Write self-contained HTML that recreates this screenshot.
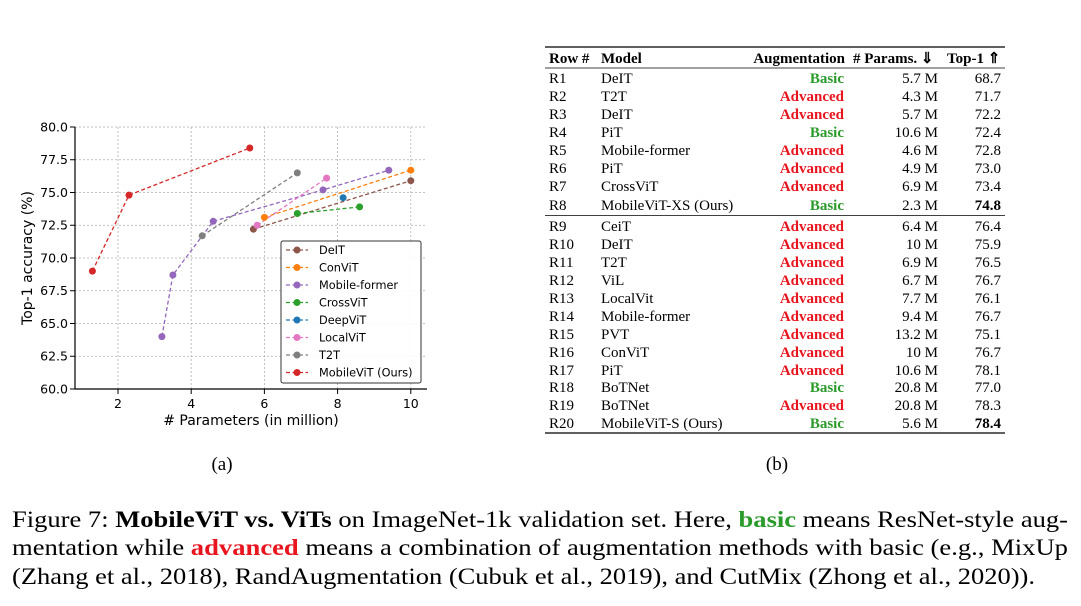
<!DOCTYPE html>
<html><head><meta charset="utf-8"><style>html,body{margin:0;padding:0;background:#fff}svg{display:block}</style></head><body>
<svg width="1081" height="606" xmlns="http://www.w3.org/2000/svg">
<g stroke="#b0b0b0" stroke-width="0.8" stroke-dasharray="2,2">
<line x1="118" y1="127" x2="118" y2="389"/><line x1="191.2" y1="127" x2="191.2" y2="389"/><line x1="264.4" y1="127" x2="264.4" y2="389"/><line x1="337.6" y1="127" x2="337.6" y2="389"/><line x1="410.8" y1="127" x2="410.8" y2="389"/>
<line x1="75" y1="356.25" x2="427" y2="356.25"/><line x1="75" y1="323.5" x2="427" y2="323.5"/><line x1="75" y1="290.75" x2="427" y2="290.75"/><line x1="75" y1="258" x2="427" y2="258"/><line x1="75" y1="225.25" x2="427" y2="225.25"/><line x1="75" y1="192.5" x2="427" y2="192.5"/><line x1="75" y1="159.75" x2="427" y2="159.75"/><line x1="75" y1="127" x2="427" y2="127"/>
</g>
<g stroke="#000" stroke-width="1.2"><line x1="75" y1="127" x2="75" y2="389"/><line x1="75" y1="389" x2="427" y2="389"/>
<g stroke-width="1"><line x1="70" y1="127" x2="75" y2="127"/><line x1="70" y1="159.75" x2="75" y2="159.75"/><line x1="70" y1="192.5" x2="75" y2="192.5"/><line x1="70" y1="225.25" x2="75" y2="225.25"/><line x1="70" y1="258" x2="75" y2="258"/><line x1="70" y1="290.75" x2="75" y2="290.75"/><line x1="70" y1="323.5" x2="75" y2="323.5"/><line x1="70" y1="356.25" x2="75" y2="356.25"/><line x1="70" y1="389" x2="75" y2="389"/>
<line x1="118" y1="389" x2="118" y2="394"/><line x1="191.2" y1="389" x2="191.2" y2="394"/><line x1="264.4" y1="389" x2="264.4" y2="394"/><line x1="337.6" y1="389" x2="337.6" y2="394"/><line x1="410.8" y1="389" x2="410.8" y2="394"/></g></g>
<g font-family="DejaVu Sans, sans-serif" font-size="12.5" fill="#000" text-anchor="end">
<text x="68" y="131.5">80.0</text><text x="68" y="164">77.5</text><text x="68" y="197">75.0</text><text x="68" y="229.5">72.5</text><text x="68" y="262.5">70.0</text><text x="68" y="295">67.5</text><text x="68" y="328">65.0</text><text x="68" y="360.5">62.5</text><text x="68" y="393.5">60.0</text>
</g>
<g font-family="DejaVu Sans, sans-serif" font-size="12.5" text-anchor="middle">
<text x="118" y="408">2</text><text x="191.2" y="408">4</text><text x="264.4" y="408">6</text><text x="337.6" y="408">8</text><text x="410.8" y="408">10</text>
<text x="251" y="425" font-size="14">  # Parameters (in million)</text>
<text transform="translate(32,258) rotate(-90)" font-size="14">Top-1 accuracy (%)</text>
</g>
<g stroke-width="1.3" stroke-dasharray="4,2.5" fill="none">
<polyline stroke="#8c564b" points="253.4,229.2 410.8,180.7"/>
<polyline stroke="#ff7f0e" points="264.4,217.4 410.8,170.2"/>
<polyline stroke="#9467bd" points="161.9,336.6 172.9,275 213.2,221.3 323,189.9 388.8,170.2"/>
<polyline stroke="#2ca02c" points="297.3,213.5 359.6,206.9"/>
<polyline stroke="#e377c2" points="257.1,225.3 326.6,178.1"/>
<polyline stroke="#7f7f7f" points="202.2,235.8 297.3,172.9"/>
<polyline stroke="#d62728" points="92.4,271.1 129,195.1 249.8,148"/>
</g>
<g>
<circle cx="253.4" cy="229.2" r="3.5" fill="#8c564b"/><circle cx="410.8" cy="180.7" r="3.5" fill="#8c564b"/>
<circle cx="264.4" cy="217.4" r="3.5" fill="#ff7f0e"/><circle cx="410.8" cy="170.2" r="3.5" fill="#ff7f0e"/>
<circle cx="161.9" cy="336.6" r="3.5" fill="#9467bd"/><circle cx="172.9" cy="275" r="3.5" fill="#9467bd"/><circle cx="213.2" cy="221.3" r="3.5" fill="#9467bd"/><circle cx="323" cy="189.9" r="3.5" fill="#9467bd"/><circle cx="388.8" cy="170.2" r="3.5" fill="#9467bd"/>
<circle cx="297.3" cy="213.5" r="3.5" fill="#2ca02c"/><circle cx="359.6" cy="206.9" r="3.5" fill="#2ca02c"/>
<circle cx="343.1" cy="197.7" r="3.5" fill="#1f77b4"/>
<circle cx="257.1" cy="225.3" r="3.5" fill="#e377c2"/><circle cx="326.6" cy="178.1" r="3.5" fill="#e377c2"/>
<circle cx="202.2" cy="235.8" r="3.5" fill="#7f7f7f"/><circle cx="297.3" cy="172.9" r="3.5" fill="#7f7f7f"/>
<circle cx="92.4" cy="271.1" r="3.5" fill="#d62728"/><circle cx="129" cy="195.1" r="3.5" fill="#d62728"/><circle cx="249.8" cy="148" r="3.5" fill="#d62728"/>
</g>
<rect x="281" y="241" width="140" height="142" rx="2" fill="#fff" fill-opacity="0.9" stroke="#333" stroke-width="1"/>
<g font-family="DejaVu Sans, sans-serif" font-size="11.3" stroke-width="1.3">
<g transform="translate(0,250)"><line x1="286" x2="308" stroke="#8c564b" stroke-dasharray="4,2.5"/><circle cx="297" r="3.5" fill="#8c564b"/><text x="319" y="4">DeIT</text></g>
<g transform="translate(0,267.5)"><line x1="286" x2="308" stroke="#ff7f0e" stroke-dasharray="4,2.5"/><circle cx="297" r="3.5" fill="#ff7f0e"/><text x="319" y="4">ConViT</text></g>
<g transform="translate(0,285)"><line x1="286" x2="308" stroke="#9467bd" stroke-dasharray="4,2.5"/><circle cx="297" r="3.5" fill="#9467bd"/><text x="319" y="4">Mobile-former</text></g>
<g transform="translate(0,302.5)"><line x1="286" x2="308" stroke="#2ca02c" stroke-dasharray="4,2.5"/><circle cx="297" r="3.5" fill="#2ca02c"/><text x="319" y="4">CrossViT</text></g>
<g transform="translate(0,320)"><line x1="286" x2="308" stroke="#1f77b4" stroke-dasharray="4,2.5"/><circle cx="297" r="3.5" fill="#1f77b4"/><text x="319" y="4">DeepViT</text></g>
<g transform="translate(0,337.5)"><line x1="286" x2="308" stroke="#e377c2" stroke-dasharray="4,2.5"/><circle cx="297" r="3.5" fill="#e377c2"/><text x="319" y="4">LocalViT</text></g>
<g transform="translate(0,355)"><line x1="286" x2="308" stroke="#7f7f7f" stroke-dasharray="4,2.5"/><circle cx="297" r="3.5" fill="#7f7f7f"/><text x="319" y="4">T2T</text></g>
<g transform="translate(0,372.5)"><line x1="286" x2="308" stroke="#d62728" stroke-dasharray="4,2.5"/><circle cx="297" r="3.5" fill="#d62728"/><text x="319" y="4">MobileViT (Ours)</text></g>
</g>

<!-- table -->
<g stroke="#000"><line x1="545" y1="47" x2="1005" y2="47" stroke-width="1.3"/><line x1="545" y1="68" x2="1005" y2="68" stroke-width="0.8"/><line x1="545" y1="215.5" x2="1005" y2="215.5" stroke-width="0.8"/><line x1="545" y1="433" x2="1005" y2="433" stroke-width="1.3"/></g>
<g font-family="Liberation Serif, serif" font-size="15">
<g font-weight="bold"><text x="549" y="63">Row #</text><text x="601" y="63">Model</text><text x="845" y="63" text-anchor="end">Augmentation</text><text x="853" y="63"># Params. ⇓</text><text x="947" y="63">Top-1 ⇑</text></g>
<g id="rows">
<text x="549" y="83">R1</text><text x="601" y="83">DeIT</text><text x="844" y="83" text-anchor="end" fill="#2a9a2a" font-weight="bold">Basic</text><text x="938" y="83" text-anchor="end">5.7 M</text><text x="1001" y="83" text-anchor="end">68.7</text>
<text x="549" y="101">R2</text><text x="601" y="101">T2T</text><text x="844" y="101" text-anchor="end" fill="#e8141e" font-weight="bold">Advanced</text><text x="938" y="101" text-anchor="end">4.3 M</text><text x="1001" y="101" text-anchor="end">71.7</text>
<text x="549" y="119">R3</text><text x="601" y="119">DeIT</text><text x="844" y="119" text-anchor="end" fill="#e8141e" font-weight="bold">Advanced</text><text x="938" y="119" text-anchor="end">5.7 M</text><text x="1001" y="119" text-anchor="end">72.2</text>
<text x="549" y="137">R4</text><text x="601" y="137">PiT</text><text x="844" y="137" text-anchor="end" fill="#2a9a2a" font-weight="bold">Basic</text><text x="938" y="137" text-anchor="end">10.6 M</text><text x="1001" y="137" text-anchor="end">72.4</text>
<text x="549" y="155">R5</text><text x="601" y="155">Mobile-former</text><text x="844" y="155" text-anchor="end" fill="#e8141e" font-weight="bold">Advanced</text><text x="938" y="155" text-anchor="end">4.6 M</text><text x="1001" y="155" text-anchor="end">72.8</text>
<text x="549" y="173">R6</text><text x="601" y="173">PiT</text><text x="844" y="173" text-anchor="end" fill="#e8141e" font-weight="bold">Advanced</text><text x="938" y="173" text-anchor="end">4.9 M</text><text x="1001" y="173" text-anchor="end">73.0</text>
<text x="549" y="191">R7</text><text x="601" y="191">CrossViT</text><text x="844" y="191" text-anchor="end" fill="#e8141e" font-weight="bold">Advanced</text><text x="938" y="191" text-anchor="end">6.9 M</text><text x="1001" y="191" text-anchor="end">73.4</text>
<text x="549" y="210">R8</text><text x="601" y="210">MobileViT-XS (Ours)</text><text x="844" y="210" text-anchor="end" fill="#2a9a2a" font-weight="bold">Basic</text><text x="938" y="210" text-anchor="end">2.3 M</text><text x="1001" y="210" text-anchor="end" font-weight="bold">74.8</text>
<text x="549" y="231">R9</text><text x="601" y="231">CeiT</text><text x="844" y="231" text-anchor="end" fill="#e8141e" font-weight="bold">Advanced</text><text x="938" y="231" text-anchor="end">6.4 M</text><text x="1001" y="231" text-anchor="end">76.4</text>
<text x="549" y="249">R10</text><text x="601" y="249">DeIT</text><text x="844" y="249" text-anchor="end" fill="#e8141e" font-weight="bold">Advanced</text><text x="938" y="249" text-anchor="end">10 M</text><text x="1001" y="249" text-anchor="end">75.9</text>
<text x="549" y="267">R11</text><text x="601" y="267">T2T</text><text x="844" y="267" text-anchor="end" fill="#e8141e" font-weight="bold">Advanced</text><text x="938" y="267" text-anchor="end">6.9 M</text><text x="1001" y="267" text-anchor="end">76.5</text>
<text x="549" y="285">R12</text><text x="601" y="285">ViL</text><text x="844" y="285" text-anchor="end" fill="#e8141e" font-weight="bold">Advanced</text><text x="938" y="285" text-anchor="end">6.7 M</text><text x="1001" y="285" text-anchor="end">76.7</text>
<text x="549" y="303">R13</text><text x="601" y="303">LocalVit</text><text x="844" y="303" text-anchor="end" fill="#e8141e" font-weight="bold">Advanced</text><text x="938" y="303" text-anchor="end">7.7 M</text><text x="1001" y="303" text-anchor="end">76.1</text>
<text x="549" y="321">R14</text><text x="601" y="321">Mobile-former</text><text x="844" y="321" text-anchor="end" fill="#e8141e" font-weight="bold">Advanced</text><text x="938" y="321" text-anchor="end">9.4 M</text><text x="1001" y="321" text-anchor="end">76.7</text>
<text x="549" y="339">R15</text><text x="601" y="339">PVT</text><text x="844" y="339" text-anchor="end" fill="#e8141e" font-weight="bold">Advanced</text><text x="938" y="339" text-anchor="end">13.2 M</text><text x="1001" y="339" text-anchor="end">75.1</text>
<text x="549" y="357">R16</text><text x="601" y="357">ConViT</text><text x="844" y="357" text-anchor="end" fill="#e8141e" font-weight="bold">Advanced</text><text x="938" y="357" text-anchor="end">10 M</text><text x="1001" y="357" text-anchor="end">76.7</text>
<text x="549" y="375">R17</text><text x="601" y="375">PiT</text><text x="844" y="375" text-anchor="end" fill="#e8141e" font-weight="bold">Advanced</text><text x="938" y="375" text-anchor="end">10.6 M</text><text x="1001" y="375" text-anchor="end">78.1</text>
<text x="549" y="392">R18</text><text x="601" y="392">BoTNet</text><text x="844" y="392" text-anchor="end" fill="#2a9a2a" font-weight="bold">Basic</text><text x="938" y="392" text-anchor="end">20.8 M</text><text x="1001" y="392" text-anchor="end">77.0</text>
<text x="549" y="410">R19</text><text x="601" y="410">BoTNet</text><text x="844" y="410" text-anchor="end" fill="#e8141e" font-weight="bold">Advanced</text><text x="938" y="410" text-anchor="end">20.8 M</text><text x="1001" y="410" text-anchor="end">78.3</text>
<text x="549" y="428">R20</text><text x="601" y="428">MobileViT-S (Ours)</text><text x="844" y="428" text-anchor="end" fill="#2a9a2a" font-weight="bold">Basic</text><text x="938" y="428" text-anchor="end">5.6 M</text><text x="1001" y="428" text-anchor="end" font-weight="bold">78.4</text>
</g>
</g>
<g font-family="Liberation Serif, serif" font-size="19">
<text x="222" y="470" text-anchor="middle">(a)</text><text x="777" y="470" text-anchor="middle">(b)</text>
</g>
<g font-family="Liberation Serif, serif" font-size="23">
<text x="12" y="527" textLength="1056" lengthAdjust="spacingAndGlyphs">Figure 7: <tspan font-weight="bold">MobileViT vs. ViTs</tspan> on ImageNet-1k validation set. Here, <tspan font-weight="bold" fill="#2a9a2a">basic</tspan> means ResNet-style aug-</text>
<text x="12" y="555" textLength="1056" lengthAdjust="spacingAndGlyphs">mentation while <tspan font-weight="bold" fill="#e8141e">advanced</tspan> means a combination of augmentation methods with basic (e.g., MixUp</text>
<text x="12" y="584" textLength="1023" lengthAdjust="spacingAndGlyphs">(Zhang et al., 2018), RandAugmentation (Cubuk et al., 2019), and CutMix (Zhong et al., 2020)).</text>
</g>
</svg>
</body></html>
